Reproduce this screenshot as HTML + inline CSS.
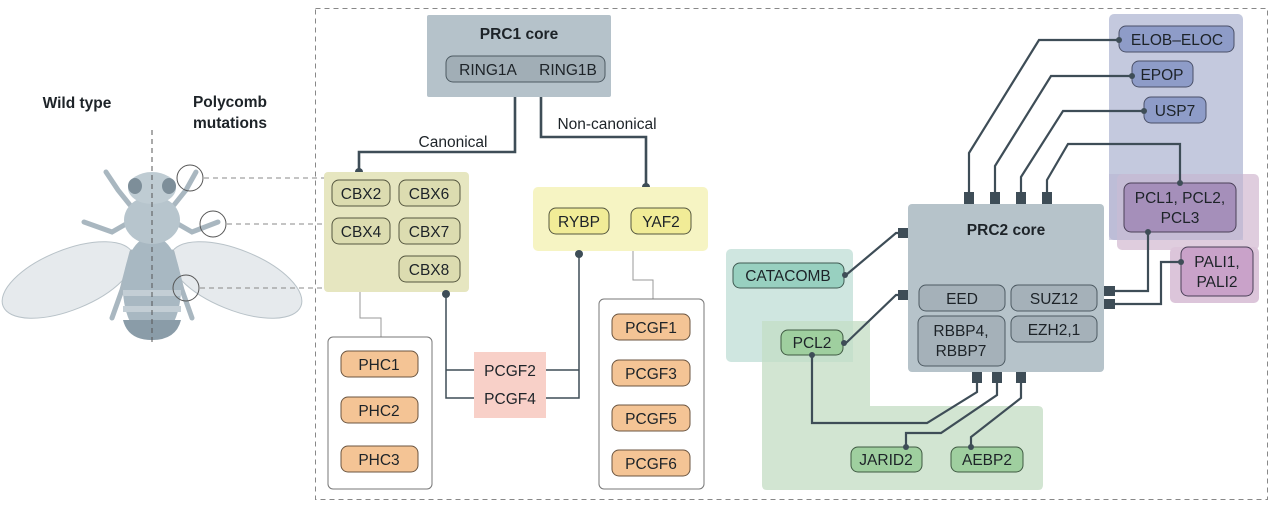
<!DOCTYPE html>
<html><head><meta charset="utf-8"><style>
html,body{margin:0;padding:0;background:#fff}
svg{display:block}
text{font-family:"Liberation Sans",sans-serif;fill:#1d2328}
.t{font-size:15.5px;text-anchor:middle}
.b{font-weight:bold}
.ln{stroke:#3e4d57;stroke-width:2.6;fill:none}
.th{stroke:#9a9a9a;stroke-width:1;fill:none}
</style></head><body>
<svg width="1280" height="509" viewBox="0 0 1280 509" xmlns="http://www.w3.org/2000/svg">
<rect x="315.5" y="8.5" width="952" height="491" fill="none" stroke="#888" stroke-dasharray="5,4"/>
<!-- fly -->
<g>
<text x="77" y="108" class="t b" font-size="16.5">Wild type</text>
<text x="230" y="107" class="t b" font-size="16.5">Polycomb</text>
<text x="230" y="128" class="t b" font-size="16.5">mutations</text>
<ellipse cx="68" cy="280" rx="70" ry="30" transform="rotate(-22 68 280)" fill="#e6eaed" stroke="#b8c2c8"/>
<ellipse cx="236" cy="280" rx="70" ry="30" transform="rotate(22 236 280)" fill="#e6eaed" stroke="#b8c2c8"/>
<g stroke="#a9b7c0" stroke-width="5" stroke-linecap="round" fill="none">
<path d="M130 205L118 190L106 172"/><path d="M174 205L186 190L196 172"/>
<path d="M126 224L112 232L84 222"/><path d="M178 224L192 232L218 222"/>
<path d="M132 252L122 290L112 318"/><path d="M172 252L182 290L192 318"/>
</g>
<ellipse cx="152" cy="288" rx="29" ry="52" fill="#a8b8c2"/>
<rect x="123" y="290" width="58" height="6" fill="#c3ced5"/>
<rect x="123" y="306" width="58" height="6" fill="#c3ced5"/>
<path d="M123 320H181Q176 340 152 340Q128 340 123 320Z" fill="#8a9ca8"/>
<ellipse cx="152" cy="220" rx="28" ry="24" fill="#b7c5cd"/>
<ellipse cx="152" cy="188" rx="24" ry="16" fill="#bfccd3"/>
<ellipse cx="135" cy="186" rx="7" ry="8" fill="#7d8e99"/><ellipse cx="169" cy="186" rx="7" ry="8" fill="#7d8e99"/>
<line x1="152" y1="130" x2="152" y2="345" stroke="#555" stroke-dasharray="5,4"/>
<circle cx="190" cy="178" r="13" fill="none" stroke="#555"/>
<circle cx="213" cy="224" r="13" fill="none" stroke="#555"/>
<circle cx="186" cy="288" r="13" fill="none" stroke="#555"/>
<g stroke="#888" stroke-dasharray="5,4"><line x1="204" y1="178" x2="324" y2="178"/><line x1="227" y1="224" x2="324" y2="224"/><line x1="200" y1="288" x2="324" y2="288"/></g>
</g>
<!-- PRC1 -->
<rect x="427" y="15" width="184" height="82" rx="2" fill="#b5c2ca"/>
<text x="519" y="39" class="t b" font-size="16.5">PRC1 core</text>
<rect x="446" y="56" width="159" height="26" rx="7" fill="#a1aeb6" stroke="#4d5a62"/>
<text x="488" y="75" class="t" font-size="16">RING1A</text><text x="568" y="75" class="t" font-size="16">RING1B</text>
<path class="ln" d="M515 97V152H359V172"/><circle cx="359" cy="172" r="4" fill="#3e4d57"/>
<path class="ln" d="M541 97V137H646V187"/><circle cx="646" cy="187" r="4" fill="#3e4d57"/>
<text x="453" y="147" class="t" font-size="16">Canonical</text>
<text x="607" y="129" class="t" font-size="16">Non-canonical</text>
<rect x="324" y="172" width="145" height="120" rx="4" fill="#e6e6c0"/>
<g fill="#dcdcb0" stroke="#55573f">
<rect x="332" y="180" width="58" height="26" rx="7"/><rect x="399" y="180" width="61" height="26" rx="7"/>
<rect x="332" y="218" width="58" height="26" rx="7"/><rect x="399" y="218" width="61" height="26" rx="7"/>
<rect x="399" y="256" width="61" height="26" rx="7"/></g>
<text x="361" y="199" class="t">CBX2</text><text x="429" y="199" class="t">CBX6</text>
<text x="361" y="237" class="t">CBX4</text><text x="429" y="237" class="t">CBX7</text>
<text x="429" y="275" class="t">CBX8</text>
<rect x="533" y="187" width="175" height="64" rx="5" fill="#f6f4c3"/>
<g fill="#f1ec97" stroke="#55573f"><rect x="549" y="208" width="60" height="26" rx="7"/><rect x="631" y="208" width="60" height="26" rx="7"/></g>
<text x="579" y="227" class="t">RYBP</text><text x="661" y="227" class="t">YAF2</text>
<path class="th" d="M360 292V318H381V337"/><path class="th" d="M633 251V280H653V299"/>
<rect x="328" y="337" width="104" height="152" rx="5" fill="#fff" stroke="#777"/>
<rect x="599" y="299" width="105" height="190" rx="5" fill="#fff" stroke="#777"/>
<g fill="#f4c495" stroke="#6b5540">
<rect x="341" y="351" width="77" height="26" rx="7"/><rect x="341" y="397" width="77" height="26" rx="7"/><rect x="341" y="446" width="77" height="26" rx="7"/>
<rect x="612" y="314" width="78" height="26" rx="7"/><rect x="612" y="360" width="78" height="26" rx="7"/><rect x="612" y="405" width="78" height="26" rx="7"/><rect x="612" y="450" width="78" height="26" rx="7"/></g>
<text x="379" y="370" class="t">PHC1</text><text x="379" y="416" class="t">PHC2</text><text x="379" y="465" class="t">PHC3</text>
<text x="651" y="333" class="t">PCGF1</text><text x="651" y="379" class="t">PCGF3</text><text x="651" y="424" class="t">PCGF5</text><text x="651" y="469" class="t">PCGF6</text>
<path class="th" style="stroke:#3e4d57;stroke-width:1.5" d="M446 292V398H474M446 370H474M579 253V398H546M579 370H546"/>
<circle cx="446" cy="294" r="4" fill="#3e4d57"/><circle cx="579" cy="254" r="4" fill="#3e4d57"/>
<rect x="474" y="352" width="72" height="66" fill="#f8d0c8"/>
<text x="510" y="376" class="t" font-size="16">PCGF2</text><text x="510" y="404" class="t" font-size="16">PCGF4</text>
<!-- PRC2 panels -->
<rect x="1109" y="14" width="134" height="226" rx="5" fill="#c4c9de"/>
<rect x="1117" y="174" width="142" height="76" rx="5" fill="#d9c4d8" opacity="0.85"/>
<rect x="1109" y="174" width="134" height="66" fill="#b9b6d2" opacity="0.6"/>
<rect x="1170" y="247" width="89" height="56" rx="5" fill="#dcc5da"/>
<rect x="726" y="249" width="127" height="113" rx="5" fill="#cfe6e0"/>
<path d="M767 321H870V406H1038Q1043 406 1043 411V485Q1043 490 1038 490H767Q762 490 762 485V326Q762 321 767 321Z" fill="#d2e5d2"/>
<rect x="762" y="321" width="91" height="41" fill="#c6e0cc"/>
<rect x="908" y="204" width="196" height="168" rx="4" fill="#b6c3ca"/>
<text x="1006" y="235" class="t b" font-size="16.5">PRC2 core</text>
<g fill="#a5b1b9" stroke="#4d5a62">
<rect x="919" y="285" width="86" height="26" rx="7"/><rect x="1011" y="285" width="86" height="26" rx="7"/>
<rect x="918" y="316" width="87" height="50" rx="7"/><rect x="1011" y="316" width="86" height="26" rx="7"/></g>
<text x="962" y="304" class="t">EED</text><text x="1054" y="304" class="t">SUZ12</text>
<text x="961" y="336" class="t">RBBP4,</text><text x="961" y="356" class="t">RBBP7</text><text x="1054" y="335" class="t">EZH2,1</text>
<!-- nodes right -->
<g fill="#8e9cc8" stroke="#4a5068">
<rect x="1119" y="26" width="115" height="26" rx="7"/><rect x="1132" y="61" width="61" height="26" rx="7"/><rect x="1144" y="97" width="62" height="26" rx="7"/></g>
<text x="1177" y="45" class="t" font-size="16">ELOB–ELOC</text><text x="1162" y="80" class="t" font-size="16">EPOP</text><text x="1175" y="116" class="t" font-size="16">USP7</text>
<rect x="1124" y="183" width="112" height="49" rx="7" fill="#a58fba" stroke="#4a4058"/>
<text x="1180" y="203" class="t" font-size="16">PCL1, PCL2,</text><text x="1180" y="223" class="t" font-size="16">PCL3</text>
<rect x="1181" y="247" width="72" height="49" rx="7" fill="#c9a2c9" stroke="#4a4058"/>
<text x="1217" y="267" class="t" font-size="16">PALI1,</text><text x="1217" y="287" class="t" font-size="16">PALI2</text>
<g fill="#98d0c0" stroke="#3f5a52"><rect x="733" y="263" width="111" height="25" rx="7"/></g>
<text x="788" y="281" class="t" font-size="16">CATACOMB</text>
<g fill="#9fcf9f" stroke="#3f5a42"><rect x="781" y="330" width="62" height="25" rx="7"/><rect x="851" y="447" width="71" height="25" rx="7"/><rect x="951" y="447" width="72" height="25" rx="7"/></g>
<text x="812" y="348" class="t" font-size="16">PCL2</text><text x="886" y="465" class="t" font-size="16">JARID2</text><text x="987" y="465" class="t" font-size="16">AEBP2</text>
<!-- connectors -->
<g class="ln" style="stroke-width:2.2">
<path d="M969 195V153L1039 40H1119"/>
<path d="M995 195V166L1051 76H1132"/>
<path d="M1021 195V177L1063 111H1144"/>
<path d="M1047 195V180L1068 144H1180V183"/>
<path d="M906 233H896L846 275"/>
<path d="M906 295H896L846 343"/>
<path d="M1108 291H1148V232"/>
<path d="M1108 304H1161V262H1181"/>
<path d="M977 380V392L927 423H812V355"/>
<path d="M997 380V395L941 433H906V447"/>
<path d="M1021 380V398L971 437V447"/>
</g>
<g fill="#3e4d57">
<rect x="964" y="192" width="10" height="12"/><rect x="990" y="192" width="10" height="12"/><rect x="1016" y="192" width="10" height="12"/><rect x="1042" y="192" width="10" height="12"/>
<rect x="898" y="228" width="10" height="10"/><rect x="898" y="290" width="10" height="10"/>
<rect x="1104" y="286" width="11" height="10"/><rect x="1104" y="299" width="11" height="10"/>
<rect x="972" y="372" width="10" height="11"/><rect x="992" y="372" width="10" height="11"/><rect x="1016" y="372" width="10" height="11"/>
<circle cx="1119" cy="40" r="3"/><circle cx="1132" cy="76" r="3"/><circle cx="1144" cy="111" r="3"/><circle cx="1180" cy="183" r="3"/>
<circle cx="1148" cy="232" r="3"/><circle cx="1181" cy="262" r="3"/><circle cx="845" cy="275" r="3"/><circle cx="844" cy="343" r="3"/>
<circle cx="812" cy="355" r="3"/><circle cx="906" cy="447" r="3"/><circle cx="971" cy="447" r="3"/>
</g>
</svg>
</body></html>
